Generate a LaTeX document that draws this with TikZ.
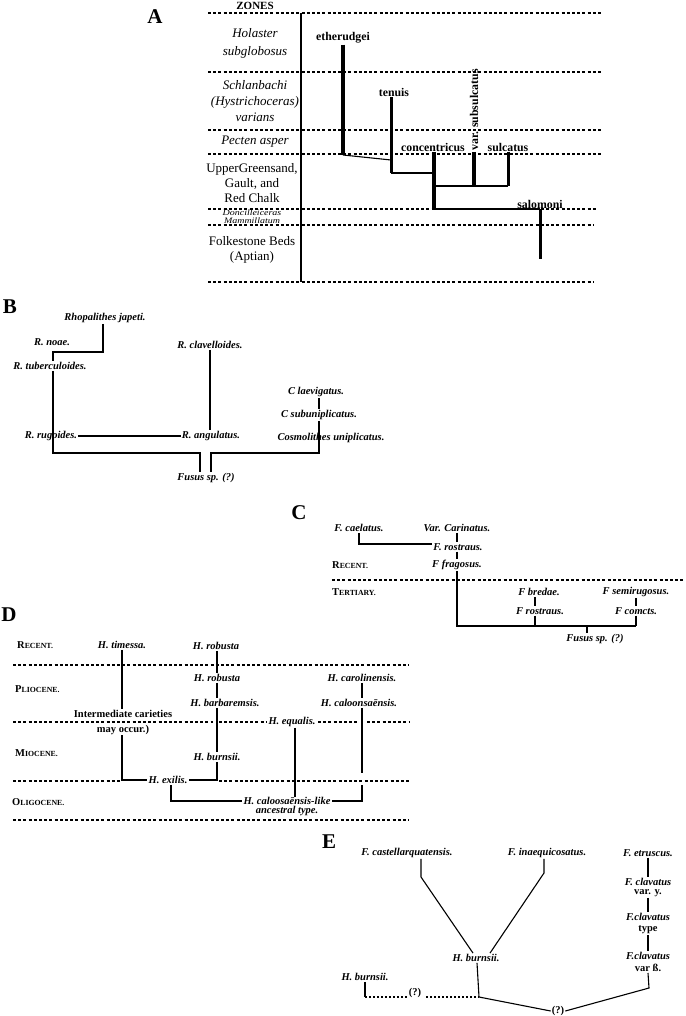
\documentclass[tikz,border=0pt]{standalone}
\usepackage{fontspec}
\setmainfont{Liberation Serif}
\newcommand\fakesc[2]{{\fontsize{10.5}{12}\selectfont\bfseries #1}{\fontsize{7.8}{9}\selectfont\bfseries #2}}
\tikzset{
  lab/.style={font=\fontsize{10.5}{12}\selectfont\bfseries\itshape, inner sep=1pt},
  blab/.style={font=\fontsize{10.5}{15}\selectfont\bfseries, inner sep=1pt, align=center},
  alab/.style={font=\fontsize{11.8}{13}\selectfont\bfseries, inner sep=1pt},
  zone/.style={align=center, inner sep=0pt},
  big/.style={font=\fontsize{21}{24}\selectfont\bfseries, inner sep=0pt},
  era/.style={anchor=west, inner sep=0pt},
  edge/.style={line width=1.1pt},
  dl/.style={line width=1.1pt, dash pattern=on 3pt off 2.2pt},
  dot/.style={line width=1.1pt, dash pattern=on 2pt off 2pt},
}
\begin{document}
\begin{tikzpicture}[x=1pt,y=-1pt]
\useasboundingbox (0,0) rectangle (685,1016);

% ---------------- Panel A ----------------
\node[big] (A) at (155,17) {A};
\node[font=\fontsize{11}{13}\selectfont\bfseries, inner sep=0pt] (zones) at (255,6) {ZONES};
\foreach \y/\xe in {13/602,72/602,130/602,154/602,209/596,225/594,282/593}
  \draw[dl] (208,\y) -- (\xe,\y);
\draw[line width=2.2pt] (301,13) -- (301,282);
\node[zone, font=\fontsize{13}{18}\selectfont\itshape] (z1) at (255,43) {Holaster\\subglobosus};
\node[zone, font=\fontsize{13}{16}\selectfont\itshape] (z2) at (255,101) {Schlanbachi\\(Hystrichoceras)\\varians};
\node[zone, font=\fontsize{13}{16}\selectfont\itshape] (z3) at (255,142) {Pecten asper};
\node[zone, font=\fontsize{13}{15}\selectfont] (z4) at (252,183) {UpperGreensand,\\Gault, and\\Red Chalk};
\node[zone, font=\fontsize{8.3}{8.3}\selectfont\itshape, xscale=1.2, transform shape] (z5) at (252,217) {Doncilleiceras\\Mammillatum};
\node[zone, font=\fontsize{13}{15}\selectfont] (z6) at (252,250) {Folkestone Beds\\(Aptian)};

\node[alab] (eth) at (343,38) {etherudgei};
\coordinate (ethb) at (343,155);
\draw[line width=4pt] (eth.south) -- (ethb);
\node[alab] (ten) at (394,92) {tenuis};
\coordinate (tenb) at (391,173);
\coordinate (tenj) at (391,160);
\draw[line width=3pt] (ten.south -| tenb) -- (tenb);
\draw[edge] (ethb) -- (tenj);
\node[alab] (con) at (433,147) {concentricus};
\coordinate (conb) at (434,209);
\draw[line width=3.5pt] (con.south -| conb) -- (conb);
\draw[edge] (tenb) -- (tenb -| conb);
\node[alab, rotate=90] (var) at (474,110) {var. subsulcatus};
\coordinate (varb) at (474,186);
\draw[line width=3.5pt] (varb |- var.west) -- (varb);
\node[alab] (sul) at (508,147) {sulcatus};
\coordinate (sulb) at (508,186);
\draw[line width=3pt] (sul.south) -- (sulb);
\draw[edge] (conb |- sulb) -- (sulb);
\node[alab] (sal) at (540,204) {salomoni};
\coordinate (salb) at (540,259);
\draw[edge] (conb) -- (conb -| sal);
\draw[line width=3pt] (conb -| sal) -- (salb);

% ---------------- Panel B ----------------
\node[big] (B) at (10,307) {B};
\node[lab] (rj) at (105,318) {Rhopalithes japeti.};
\node[lab] (rn) at (52,342) {R. noae.};
\node[lab] (rt) at (50,366) {R. tuberculoides.};
\node[lab] (rc) at (210,345) {R. clavelloides.};
\node[lab] (rr) at (51,436) {R. rugoides.};
\node[lab] (ra) at (211,436) {R. angulatus.};
\node[lab] (cl) at (316,392) {C laevigatus.};
\node[lab] (cs) at (319,415) {C subuniplicatus.};
\node[lab] (cu) at (331,438) {Cosmolithes uniplicatus.};
\node[lab] (fs) at (206,478) {Fusus sp. (?)};
\coordinate (fsl) at ([xshift=-6pt]fs.north);
\coordinate (fsr) at ([xshift=5pt]fs.north);
\coordinate (b0) at (103,352);
\coordinate (bL) at (53,453);
\coordinate (bR) at (319,453);
\draw[edge] (rj.south -| b0) -- (b0) -| (rt.north -| bL);
\draw[edge] (rt.south -| bL) -- (bL) -| (fsl);
\draw[edge] (rc.south) -- (rc.south |- ra.north);
\draw[edge] (rr.east) -- (ra.west);
\draw[edge] (cs.north) -- (cs.north |- cl.south);
\draw[edge] (cs.south) -- (bR) -| (fsr);

% ---------------- Panel C ----------------
\node[big] (C) at (299,513) {C};
\node[lab] (fcae) at (359,528) {F. caelatus.};
\node[lab] (vc) at (457,528) {Var. Carinatus.};
\node[lab] (fr1) at (458,547) {F. rostraus.};
\node[lab] (ffr) at (457,565) {F fragosus.};
\node[era] (crec) at (332,565) {\fakesc{R}{ECENT.}};
\draw[dl] (332,580) -- (685,580);
\node[era] (cter) at (332,592) {\fakesc{T}{ERTIARY.}};
\node[lab] (fb) at (539,592) {F bredae.};
\node[lab] (fr2) at (540,611) {F rostraus.};
\node[lab] (fsm) at (636,592) {F semirugosus.};
\node[lab] (fco) at (636,611) {F comcts.};
\node[lab] (fus2) at (595,639) {Fusus sp. (?)};
\coordinate (cb) at (636,626);
\coordinate (cx) at (535,626);
\coordinate (cy) at (587,626);
\draw[edge] (fcae.south) |- ([yshift=3pt]fr1.west);
\draw[edge] (vc.south) -- (vc.south |- fr1.north);
\draw[edge] (vc |- fr1.south) -- (vc |- ffr.north);
\draw[edge] (ffr.south) |- (cb);
\draw[edge] (cx |- fb.south) -- (cx |- fr2.north);
\draw[edge] (cx |- fr2.south) -- (cx);
\draw[edge] (fsm.south) -- (fco.north);
\draw[edge] (fco.south) -- (cb);
\draw[edge] (cy) -- (cy |- fus2.north);

% ---------------- Panel D ----------------
\node[big] (D) at (9,615) {D};
\node[era] (drec) at (17,645) {\fakesc{R}{ECENT.}};
\node[era] (dpli) at (15,689) {\fakesc{P}{LIOCENE.}};
\node[era] (dmio) at (15,753) {\fakesc{M}{IOCENE.}};
\node[era] (doli) at (12,802) {\fakesc{O}{LIGOCENE.}};
\draw[dl] (13,665) -- (409,665);
\draw[dl] (13,722) -- (213,722);
\draw[dl] (219,722) -- (266,722);
\draw[dl] (318,722) -- (357,722);
\draw[dl] (367,722) -- (409,722);
\draw[dl] (13,781) -- (120,781);
\draw[dl] (219,781) -- (409,781);
\draw[dl] (13,820) -- (409,820);
\node[lab] (ht) at (122,645) {H. timessa.};
\node[lab] (hr1) at (216,646) {H. robusta};
\node[lab] (hr2) at (217,678) {H. robusta};
\node[lab] (hb) at (225,703) {H. barbaremsis.};
\node[lab] (hc) at (362,678) {H. carolinensis.};
\node[lab] (hca) at (359,703) {H. caloonsaēnsis.};
\node[blab] (im) at (123,722) {Intermediate carieties\\may occur.)};
\node[lab, fill=white, inner xsep=2pt] (he) at (292,722) {H. equalis.};
\node[lab] (hbu) at (217,757) {H. burnsii.};
\node[lab] (hx) at (168,780) {H. exilis.};
\node[lab] (hl1) at (287,801) {H. caloosaēnsis-like};
\node[lab] (hl2) at (287,811) {ancestral type.};
\coordinate (dg1) at (362,773);
\coordinate (dg2) at (362,785);
\coordinate (deq) at (295,797);
\draw[edge] (ht.south) -- (ht.south |- im.north);
\draw[edge] (ht |- im.south) |- (hx.west);
\draw[edge] (hr2 |- hr1.south) -- (hr2.north);
\draw[edge] (hr2.south) -- (hr2.south |- hb.north);
\draw[edge] (hr2 |- hb.south) -- (hr2 |- hbu.north);
\draw[edge] (hbu.south) |- (hx.east);
\draw[edge] ([xshift=3pt]hx.south) |- (hl1.west);
\draw[edge] (deq |- he.south) -- (deq);
\draw[edge] (hc.south) -- (hc.south |- hca.north);
\draw[edge] (hc |- hca.south) -- (dg1);
\draw[edge] (dg2) |- (hl1.east);

% ---------------- Panel E ----------------
\node[big] (E) at (329,842) {E};
\node[lab] (fca) at (407,853) {F. castellarquatensis.};
\node[lab] (fin) at (547,853) {F. inaequicosatus.};
\node[lab] (fet) at (648,853) {F. etruscus.};
\node[lab] (fcl1) at (648,882) {F. clavatus};
\node[blab] (vy) at (648,893) {var. y.};
\node[lab] (fcl2) at (648,917) {F.clavatus};
\node[blab] (ty) at (648,930) {type};
\node[lab] (fcl3) at (648,956) {F.clavatus};
\node[blab] (vb) at (648,968) {var ß.};
\node[lab] (hbe) at (476,958) {H. burnsii.};
\node[blab] (q1) at (558,1011) {(?)};
\node[lab] (hbl) at (365,977) {H. burnsii.};
\node[blab] (q2) at (415,993) {(?)};
\coordinate (e1) at (421,877);
\coordinate (e2) at (544,873);
\coordinate (e3) at (479,997);
\coordinate (e4) at (649,988);
\coordinate (e5) at (365,997);
\draw[edge] (fca.south -| e1) -- (e1) -- ([xshift=-3pt]hbe.north);
\draw[edge] (fin.south -| e2) -- (e2) -- ([xshift=14pt]hbe.north);
\draw[edge] ([xshift=1pt]hbe.south) -- (e3) -- (q1.west);
\draw[edge] (q1.east) -- (e4) -- (vb.south);
\draw[edge] (fet.south) -- (fcl1.north);
\draw[edge] (vy.south) -- (fcl2.north);
\draw[edge] (ty.south) -- (fcl3.north);
\draw[edge] (hbl.south) -- (e5);
\draw[dot] (e5) -- (e5 -| q2.west);
\draw[dot] ([xshift=4pt]e3 -| q2.east) -- (e3);
\end{tikzpicture}
\end{document}
